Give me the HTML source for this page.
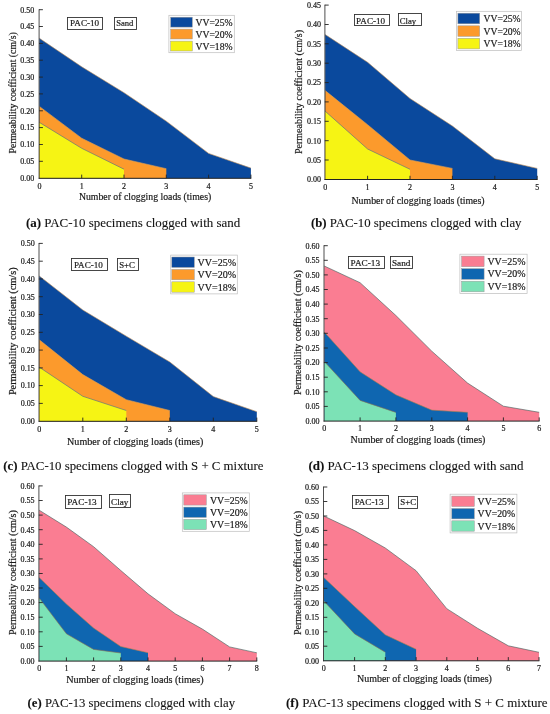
<!DOCTYPE html>
<html lang="en"><head><meta charset="utf-8"><title>Permeability coefficient vs clogging loads</title>
<style>
html,body{margin:0;padding:0;background:#fff;}
body{width:550px;height:714px;overflow:hidden;}
svg{display:block;}
svg text{font-family:"Liberation Serif","Times New Roman",serif;fill:#1a1a1a;stroke:#1a1a1a;stroke-width:0.2px;}
.tk{font-size:8px;}
.ti{font-size:9.8px;}
.lg{font-size:9.7px;}
.tg{font-size:9px;}
.cap{font-size:13px;fill:#111;stroke-width:0.1px;}
.cap tspan{font-weight:bold;}
</style></head><body>
<svg width="550" height="714" viewBox="0 0 550 714">
<rect width="550" height="714" fill="#fff"/>
<g id="chart-a">
<polygon points="39.4,178.2 39.4,38.3 81.7,66.8 124.0,92.7 166.3,121.2 208.6,153.4 250.9,168.1 250.9,178.2" fill="#0A499D"/>
<polygon points="39.4,178.2 39.4,106.4 81.7,138.2 124.0,159.0 166.3,168.7 166.3,178.2" fill="#FC9A2C"/>
<polygon points="39.4,178.2 39.4,122.4 81.7,148.3 124.0,169.2 124.0,178.2" fill="#F6F414"/>
<polyline points="39.4,38.3 81.7,66.8 124.0,92.7 166.3,121.2 208.6,153.4 250.9,168.1" fill="none" stroke="#b88a55" stroke-width="0.6"/>
<polyline points="39.4,106.4 81.7,138.2 124.0,159.0 166.3,168.7" fill="none" stroke="#d9a05a" stroke-width="0.6"/>
<polyline points="39.4,122.4 81.7,148.3 124.0,169.2" fill="none" stroke="#4a688c" stroke-width="0.6"/>
<path d="M39.1 9.3V178.7" fill="none" stroke="#222" stroke-width="0.8"/>
<path d="M38.7 178.3H251.3" fill="none" stroke="#222" stroke-width="1"/>
<text class="tk" x="34.2" y="181.0" text-anchor="end">0.00</text>
<text class="tk" x="34.2" y="164.2" text-anchor="end">0.05</text>
<text class="tk" x="34.2" y="147.3" text-anchor="end">0.10</text>
<text class="tk" x="34.2" y="130.4" text-anchor="end">0.15</text>
<text class="tk" x="34.2" y="113.6" text-anchor="end">0.20</text>
<text class="tk" x="34.2" y="96.7" text-anchor="end">0.25</text>
<text class="tk" x="34.2" y="79.9" text-anchor="end">0.30</text>
<text class="tk" x="34.2" y="63.0" text-anchor="end">0.35</text>
<text class="tk" x="34.2" y="46.2" text-anchor="end">0.40</text>
<text class="tk" x="34.2" y="29.3" text-anchor="end">0.45</text>
<text class="tk" x="34.2" y="12.5" text-anchor="end">0.50</text>
<text class="tk" x="39.4" y="188.8" text-anchor="middle">0</text>
<text class="tk" x="81.7" y="188.8" text-anchor="middle">1</text>
<text class="tk" x="124.0" y="188.8" text-anchor="middle">2</text>
<text class="tk" x="166.3" y="188.8" text-anchor="middle">3</text>
<text class="tk" x="208.6" y="188.8" text-anchor="middle">4</text>
<text class="tk" x="250.9" y="188.8" text-anchor="middle">5</text>
<path d="M39.0 161.3h3.9M39.0 144.5h3.9M39.0 127.6h3.9M39.0 110.8h3.9M39.0 93.9h3.9M39.0 77.1h3.9M39.0 60.2h3.9M39.0 43.4h3.9M39.0 26.5h3.9M39.0 9.7h3.9M81.7 178.2v-3.6M124.0 178.2v-3.6M166.3 178.2v-3.6M208.6 178.2v-3.6M250.9 178.2v-3.6" fill="none" stroke="#222" stroke-width="0.9"/>
<text class="ti" transform="translate(15.9 153.5) rotate(-90)" textLength="121.3" lengthAdjust="spacingAndGlyphs">Permeability coefficient (cm/s)</text>
<text class="ti" x="78.9" y="200.0" textLength="132.3" lengthAdjust="spacingAndGlyphs">Number of clogging loads (times)</text>
<rect x="67.5" y="17.5" width="35.0" height="12.0" fill="#fff" stroke="#333" stroke-width="0.9"/>
<text class="tg" x="70.1" y="26.4" textLength="29.1" lengthAdjust="spacingAndGlyphs">PAC-10</text>
<rect x="114.5" y="17.5" width="22.0" height="12.0" fill="#fff" stroke="#333" stroke-width="0.9"/>
<text class="tg" x="116.2" y="26.4" textLength="17.2" lengthAdjust="spacingAndGlyphs">Sand</text>
<rect x="168.9" y="15.3" width="65.4" height="37.4" fill="#fff" stroke="#bdbdbd" stroke-width="0.7"/>
<rect x="170.7" y="17.2" width="21.6" height="9.9" fill="#0A499D" stroke="#9a9a9a" stroke-width="0.5"/>
<text class="lg" x="195.4" y="25.9" textLength="37.2" lengthAdjust="spacingAndGlyphs">VV=25%</text>
<rect x="170.7" y="29.1" width="21.6" height="9.9" fill="#FC9A2C" stroke="#9a9a9a" stroke-width="0.5"/>
<text class="lg" x="195.4" y="37.8" textLength="37.2" lengthAdjust="spacingAndGlyphs">VV=20%</text>
<rect x="170.7" y="41.1" width="21.6" height="9.9" fill="#F6F414" stroke="#9a9a9a" stroke-width="0.5"/>
<text class="lg" x="195.4" y="49.8" textLength="37.2" lengthAdjust="spacingAndGlyphs">VV=18%</text>
<text class="cap" x="25.9" y="227.0" textLength="214.3" lengthAdjust="spacingAndGlyphs"><tspan>(a)</tspan> PAC-10 specimens clogged with sand</text>
</g>
<g id="chart-b">
<polygon points="325.2,179.4 325.2,34.6 367.6,62.3 410.0,98.5 452.4,126.0 494.8,158.8 537.2,168.4 537.2,179.4" fill="#0A499D"/>
<polygon points="325.2,179.4 325.2,90.6 367.6,124.7 410.0,160.0 452.4,168.4 452.4,179.4" fill="#FC9A2C"/>
<polygon points="325.2,179.4 325.2,111.2 367.6,149.0 410.0,169.3 410.0,179.4" fill="#F6F414"/>
<polyline points="325.2,34.6 367.6,62.3 410.0,98.5 452.4,126.0 494.8,158.8 537.2,168.4" fill="none" stroke="#b88a55" stroke-width="0.6"/>
<polyline points="325.2,90.6 367.6,124.7 410.0,160.0 452.4,168.4" fill="none" stroke="#d9a05a" stroke-width="0.6"/>
<polyline points="325.2,111.2 367.6,149.0 410.0,169.3" fill="none" stroke="#4a688c" stroke-width="0.6"/>
<path d="M324.9 4.7V179.9" fill="none" stroke="#222" stroke-width="0.8"/>
<path d="M324.5 179.5H537.6" fill="none" stroke="#222" stroke-width="1"/>
<text class="tk" x="320.9" y="182.2" text-anchor="end">0.00</text>
<text class="tk" x="320.9" y="162.8" text-anchor="end">0.05</text>
<text class="tk" x="320.9" y="143.5" text-anchor="end">0.10</text>
<text class="tk" x="320.9" y="124.1" text-anchor="end">0.15</text>
<text class="tk" x="320.9" y="104.7" text-anchor="end">0.20</text>
<text class="tk" x="320.9" y="85.4" text-anchor="end">0.25</text>
<text class="tk" x="320.9" y="66.0" text-anchor="end">0.30</text>
<text class="tk" x="320.9" y="46.6" text-anchor="end">0.35</text>
<text class="tk" x="320.9" y="27.3" text-anchor="end">0.40</text>
<text class="tk" x="320.9" y="7.9" text-anchor="end">0.45</text>
<text class="tk" x="325.2" y="189.8" text-anchor="middle">0</text>
<text class="tk" x="367.6" y="189.8" text-anchor="middle">1</text>
<text class="tk" x="410.0" y="189.8" text-anchor="middle">2</text>
<text class="tk" x="452.4" y="189.8" text-anchor="middle">3</text>
<text class="tk" x="494.8" y="189.8" text-anchor="middle">4</text>
<text class="tk" x="537.2" y="189.8" text-anchor="middle">5</text>
<path d="M324.8 160.0h3.9M324.8 140.7h3.9M324.8 121.3h3.9M324.8 101.9h3.9M324.8 82.6h3.9M324.8 63.2h3.9M324.8 43.8h3.9M324.8 24.5h3.9M324.8 5.1h3.9M367.6 179.4v-3.6M410.0 179.4v-3.6M452.4 179.4v-3.6M494.8 179.4v-3.6M537.2 179.4v-3.6" fill="none" stroke="#222" stroke-width="0.9"/>
<text class="ti" transform="translate(301.9 154.0) rotate(-90)" textLength="124.0" lengthAdjust="spacingAndGlyphs">Permeability coefficient (cm/s)</text>
<text class="ti" x="351.5" y="203.8" textLength="133.0" lengthAdjust="spacingAndGlyphs">Number of clogging loads (times)</text>
<rect x="354.5" y="14.5" width="35.0" height="11.0" fill="#fff" stroke="#333" stroke-width="0.9"/>
<text class="tg" x="356.1" y="23.5" textLength="29.0" lengthAdjust="spacingAndGlyphs">PAC-10</text>
<rect x="398.5" y="13.5" width="23.0" height="12.0" fill="#fff" stroke="#333" stroke-width="0.9"/>
<text class="tg" x="399.8" y="23.5" textLength="16.4" lengthAdjust="spacingAndGlyphs">Clay</text>
<rect x="456.6" y="11.3" width="65.0" height="39.3" fill="#fff" stroke="#bdbdbd" stroke-width="0.7"/>
<rect x="457.9" y="13.2" width="21.8" height="10.6" fill="#0A499D" stroke="#9a9a9a" stroke-width="0.5"/>
<text class="lg" x="483.5" y="21.9" textLength="37.1" lengthAdjust="spacingAndGlyphs">VV=25%</text>
<rect x="457.9" y="25.8" width="21.8" height="10.6" fill="#FC9A2C" stroke="#9a9a9a" stroke-width="0.5"/>
<text class="lg" x="483.5" y="34.5" textLength="37.1" lengthAdjust="spacingAndGlyphs">VV=20%</text>
<rect x="457.9" y="38.3" width="21.8" height="10.6" fill="#F6F414" stroke="#9a9a9a" stroke-width="0.5"/>
<text class="lg" x="483.5" y="47.0" textLength="37.1" lengthAdjust="spacingAndGlyphs">VV=18%</text>
<text class="cap" x="310.9" y="226.8" textLength="210.6" lengthAdjust="spacingAndGlyphs"><tspan>(b)</tspan> PAC-10 specimens clogged with clay</text>
</g>
<g id="chart-c">
<polygon points="39.3,421.2 39.3,276.0 82.8,310.0 126.3,336.2 169.8,362.0 213.3,396.6 256.8,411.7 256.8,421.2" fill="#0A499D"/>
<polygon points="39.3,421.2 39.3,339.8 82.8,374.6 126.3,399.7 169.8,410.5 169.8,421.2" fill="#FC9A2C"/>
<polygon points="39.3,421.2 39.3,367.2 82.8,396.3 126.3,410.5 126.3,421.2" fill="#F6F414"/>
<polyline points="39.3,276.0 82.8,310.0 126.3,336.2 169.8,362.0 213.3,396.6 256.8,411.7" fill="none" stroke="#b88a55" stroke-width="0.6"/>
<polyline points="39.3,339.8 82.8,374.6 126.3,399.7 169.8,410.5" fill="none" stroke="#d9a05a" stroke-width="0.6"/>
<polyline points="39.3,367.2 82.8,396.3 126.3,410.5" fill="none" stroke="#4a688c" stroke-width="0.6"/>
<path d="M39.0 243.0V421.7" fill="none" stroke="#222" stroke-width="0.8"/>
<path d="M38.6 421.3H257.2" fill="none" stroke="#222" stroke-width="1"/>
<text class="tk" x="34.7" y="424.0" text-anchor="end">0.00</text>
<text class="tk" x="34.7" y="406.2" text-anchor="end">0.05</text>
<text class="tk" x="34.7" y="388.4" text-anchor="end">0.10</text>
<text class="tk" x="34.7" y="370.7" text-anchor="end">0.15</text>
<text class="tk" x="34.7" y="352.9" text-anchor="end">0.20</text>
<text class="tk" x="34.7" y="335.1" text-anchor="end">0.25</text>
<text class="tk" x="34.7" y="317.3" text-anchor="end">0.30</text>
<text class="tk" x="34.7" y="299.5" text-anchor="end">0.35</text>
<text class="tk" x="34.7" y="281.8" text-anchor="end">0.40</text>
<text class="tk" x="34.7" y="264.0" text-anchor="end">0.45</text>
<text class="tk" x="34.7" y="246.2" text-anchor="end">0.50</text>
<text class="tk" x="39.3" y="432.3" text-anchor="middle">0</text>
<text class="tk" x="82.8" y="432.3" text-anchor="middle">1</text>
<text class="tk" x="126.3" y="432.3" text-anchor="middle">2</text>
<text class="tk" x="169.8" y="432.3" text-anchor="middle">3</text>
<text class="tk" x="213.3" y="432.3" text-anchor="middle">4</text>
<text class="tk" x="256.8" y="432.3" text-anchor="middle">5</text>
<path d="M38.9 403.4h3.9M38.9 385.6h3.9M38.9 367.9h3.9M38.9 350.1h3.9M38.9 332.3h3.9M38.9 314.5h3.9M38.9 296.7h3.9M38.9 279.0h3.9M38.9 261.2h3.9M38.9 243.4h3.9M82.8 421.2v-3.6M126.3 421.2v-3.6M169.8 421.2v-3.6M213.3 421.2v-3.6M256.8 421.2v-3.6" fill="none" stroke="#222" stroke-width="0.9"/>
<text class="ti" transform="translate(16.3 395.1) rotate(-90)" textLength="127.7" lengthAdjust="spacingAndGlyphs">Permeability coefficient (cm/s)</text>
<text class="ti" x="67.1" y="445.3" textLength="136.2" lengthAdjust="spacingAndGlyphs">Number of clogging loads (times)</text>
<rect x="71.5" y="258.5" width="36.0" height="12.0" fill="#fff" stroke="#333" stroke-width="0.9"/>
<text class="tg" x="73.9" y="267.7" textLength="29.0" lengthAdjust="spacingAndGlyphs">PAC-10</text>
<rect x="117.5" y="258.5" width="21.0" height="12.0" fill="#fff" stroke="#333" stroke-width="0.9"/>
<text class="tg" x="119.2" y="267.7" textLength="15.8" lengthAdjust="spacingAndGlyphs">S+C</text>
<rect x="170.7" y="255.1" width="66.6" height="38.8" fill="#fff" stroke="#bdbdbd" stroke-width="0.7"/>
<rect x="171.8" y="257.0" width="22.5" height="10.4" fill="#0A499D" stroke="#9a9a9a" stroke-width="0.5"/>
<text class="lg" x="197.6" y="265.7" textLength="38.6" lengthAdjust="spacingAndGlyphs">VV=25%</text>
<rect x="171.8" y="269.4" width="22.5" height="10.4" fill="#FC9A2C" stroke="#9a9a9a" stroke-width="0.5"/>
<text class="lg" x="197.6" y="278.1" textLength="38.6" lengthAdjust="spacingAndGlyphs">VV=20%</text>
<rect x="171.8" y="281.8" width="22.5" height="10.4" fill="#F6F414" stroke="#9a9a9a" stroke-width="0.5"/>
<text class="lg" x="197.6" y="290.5" textLength="38.6" lengthAdjust="spacingAndGlyphs">VV=18%</text>
<text class="cap" x="3.2" y="470.1" textLength="260.3" lengthAdjust="spacingAndGlyphs"><tspan>(c)</tspan> PAC-10 specimens clogged with S + C mixture</text>
</g>
<g id="chart-d">
<polygon points="324.3,421.0 324.3,266.0 360.1,282.7 395.9,315.5 431.8,351.2 467.6,383.1 503.4,406.2 539.2,412.3 539.2,421.0" fill="#FA7D92"/>
<polygon points="324.3,421.0 324.3,332.0 360.1,371.8 395.9,394.8 431.8,410.1 467.6,412.3 467.6,421.0" fill="#0F66B0"/>
<polygon points="324.3,421.0 324.3,361.5 360.1,400.4 395.9,412.4 395.9,421.0" fill="#7CE2B6"/>
<polyline points="324.3,266.0 360.1,282.7 395.9,315.5 431.8,351.2 467.6,383.1 503.4,406.2 539.2,412.3" fill="none" stroke="#3a5f5a" stroke-width="0.6"/>
<polyline points="324.3,332.0 360.1,371.8 395.9,394.8 431.8,410.1 467.6,412.3" fill="none" stroke="#b8804a" stroke-width="0.6"/>
<polyline points="324.3,361.5 360.1,400.4 395.9,412.4" fill="none" stroke="#8a7050" stroke-width="0.6"/>
<path d="M324.0 245.3V421.5" fill="none" stroke="#222" stroke-width="0.8"/>
<path d="M323.6 421.1H539.6" fill="none" stroke="#222" stroke-width="1"/>
<text class="tk" x="319.5" y="423.8" text-anchor="end">0.00</text>
<text class="tk" x="319.5" y="409.2" text-anchor="end">0.05</text>
<text class="tk" x="319.5" y="394.6" text-anchor="end">0.10</text>
<text class="tk" x="319.5" y="380.0" text-anchor="end">0.15</text>
<text class="tk" x="319.5" y="365.4" text-anchor="end">0.20</text>
<text class="tk" x="319.5" y="350.8" text-anchor="end">0.25</text>
<text class="tk" x="319.5" y="336.1" text-anchor="end">0.30</text>
<text class="tk" x="319.5" y="321.5" text-anchor="end">0.35</text>
<text class="tk" x="319.5" y="306.9" text-anchor="end">0.40</text>
<text class="tk" x="319.5" y="292.3" text-anchor="end">0.45</text>
<text class="tk" x="319.5" y="277.7" text-anchor="end">0.50</text>
<text class="tk" x="319.5" y="263.1" text-anchor="end">0.55</text>
<text class="tk" x="319.5" y="248.5" text-anchor="end">0.60</text>
<text class="tk" x="324.3" y="431.4" text-anchor="middle">0</text>
<text class="tk" x="360.1" y="431.4" text-anchor="middle">1</text>
<text class="tk" x="395.9" y="431.4" text-anchor="middle">2</text>
<text class="tk" x="431.8" y="431.4" text-anchor="middle">3</text>
<text class="tk" x="467.6" y="431.4" text-anchor="middle">4</text>
<text class="tk" x="503.4" y="431.4" text-anchor="middle">5</text>
<text class="tk" x="539.2" y="431.4" text-anchor="middle">6</text>
<path d="M323.9 406.4h3.9M323.9 391.8h3.9M323.9 377.2h3.9M323.9 362.6h3.9M323.9 348.0h3.9M323.9 333.3h3.9M323.9 318.7h3.9M323.9 304.1h3.9M323.9 289.5h3.9M323.9 274.9h3.9M323.9 260.3h3.9M323.9 245.7h3.9M360.1 421.0v-3.6M395.9 421.0v-3.6M431.8 421.0v-3.6M467.6 421.0v-3.6M503.4 421.0v-3.6M539.2 421.0v-3.6" fill="none" stroke="#222" stroke-width="0.9"/>
<text class="ti" transform="translate(301.0 395.1) rotate(-90)" textLength="124.9" lengthAdjust="spacingAndGlyphs">Permeability coefficient (cm/s)</text>
<text class="ti" x="350.6" y="443.1" textLength="134.8" lengthAdjust="spacingAndGlyphs">Number of clogging loads (times)</text>
<rect x="348.5" y="256.5" width="36.0" height="12.0" fill="#fff" stroke="#333" stroke-width="0.9"/>
<text class="tg" x="350.6" y="265.7" textLength="29.5" lengthAdjust="spacingAndGlyphs">PAC-13</text>
<rect x="390.5" y="256.5" width="22.0" height="12.0" fill="#fff" stroke="#333" stroke-width="0.9"/>
<text class="tg" x="392.0" y="265.7" textLength="18.4" lengthAdjust="spacingAndGlyphs">Sand</text>
<rect x="459.9" y="254.2" width="67.2" height="39.3" fill="#fff" stroke="#bdbdbd" stroke-width="0.7"/>
<rect x="461.6" y="256.1" width="22.5" height="10.6" fill="#FA7D92" stroke="#9a9a9a" stroke-width="0.5"/>
<text class="lg" x="487.4" y="264.8" textLength="38.2" lengthAdjust="spacingAndGlyphs">VV=25%</text>
<rect x="461.6" y="268.7" width="22.5" height="10.6" fill="#0F66B0" stroke="#9a9a9a" stroke-width="0.5"/>
<text class="lg" x="487.4" y="277.4" textLength="38.2" lengthAdjust="spacingAndGlyphs">VV=20%</text>
<rect x="461.6" y="281.2" width="22.5" height="10.6" fill="#7CE2B6" stroke="#9a9a9a" stroke-width="0.5"/>
<text class="lg" x="487.4" y="289.9" textLength="38.2" lengthAdjust="spacingAndGlyphs">VV=18%</text>
<text class="cap" x="308.5" y="470.1" textLength="215.0" lengthAdjust="spacingAndGlyphs"><tspan>(d)</tspan> PAC-13 specimens clogged with sand</text>
</g>
<g id="chart-e">
<polygon points="39.2,661.0 39.2,510.2 66.4,527.1 93.6,546.7 120.8,570.5 148.0,593.8 175.2,613.7 202.4,629.1 229.6,646.9 256.8,652.8 256.8,661.0" fill="#FA7D92"/>
<polygon points="39.2,661.0 39.2,577.5 66.4,604.0 93.6,628.0 120.8,646.5 148.0,652.7 148.0,661.0" fill="#0F66B0"/>
<polygon points="39.2,661.0 39.2,598.0 66.4,633.8 93.6,649.4 120.8,653.0 120.8,661.0" fill="#7CE2B6"/>
<polyline points="39.2,510.2 66.4,527.1 93.6,546.7 120.8,570.5 148.0,593.8 175.2,613.7 202.4,629.1 229.6,646.9 256.8,652.8" fill="none" stroke="#3a5f5a" stroke-width="0.6"/>
<polyline points="39.2,577.5 66.4,604.0 93.6,628.0 120.8,646.5 148.0,652.7" fill="none" stroke="#b8804a" stroke-width="0.6"/>
<polyline points="39.2,598.0 66.4,633.8 93.6,649.4 120.8,653.0" fill="none" stroke="#8a7050" stroke-width="0.6"/>
<path d="M38.9 485.5V661.5" fill="none" stroke="#222" stroke-width="0.8"/>
<path d="M38.5 661.1H257.2" fill="none" stroke="#222" stroke-width="1"/>
<text class="tk" x="34.5" y="663.8" text-anchor="end">0.00</text>
<text class="tk" x="34.5" y="649.2" text-anchor="end">0.05</text>
<text class="tk" x="34.5" y="634.6" text-anchor="end">0.10</text>
<text class="tk" x="34.5" y="620.0" text-anchor="end">0.15</text>
<text class="tk" x="34.5" y="605.4" text-anchor="end">0.20</text>
<text class="tk" x="34.5" y="590.8" text-anchor="end">0.25</text>
<text class="tk" x="34.5" y="576.2" text-anchor="end">0.30</text>
<text class="tk" x="34.5" y="561.7" text-anchor="end">0.35</text>
<text class="tk" x="34.5" y="547.1" text-anchor="end">0.40</text>
<text class="tk" x="34.5" y="532.5" text-anchor="end">0.45</text>
<text class="tk" x="34.5" y="517.9" text-anchor="end">0.50</text>
<text class="tk" x="34.5" y="503.3" text-anchor="end">0.55</text>
<text class="tk" x="34.5" y="488.7" text-anchor="end">0.60</text>
<text class="tk" x="39.2" y="671.4" text-anchor="middle">0</text>
<text class="tk" x="66.4" y="671.4" text-anchor="middle">1</text>
<text class="tk" x="93.6" y="671.4" text-anchor="middle">2</text>
<text class="tk" x="120.8" y="671.4" text-anchor="middle">3</text>
<text class="tk" x="148.0" y="671.4" text-anchor="middle">4</text>
<text class="tk" x="175.2" y="671.4" text-anchor="middle">5</text>
<text class="tk" x="202.4" y="671.4" text-anchor="middle">6</text>
<text class="tk" x="229.6" y="671.4" text-anchor="middle">7</text>
<text class="tk" x="256.8" y="671.4" text-anchor="middle">8</text>
<path d="M38.8 646.4h3.9M38.8 631.8h3.9M38.8 617.2h3.9M38.8 602.6h3.9M38.8 588.0h3.9M38.8 573.5h3.9M38.8 558.9h3.9M38.8 544.3h3.9M38.8 529.7h3.9M38.8 515.1h3.9M38.8 500.5h3.9M38.8 485.9h3.9M66.4 661.0v-3.6M93.6 661.0v-3.6M120.8 661.0v-3.6M148.0 661.0v-3.6M175.2 661.0v-3.6M202.4 661.0v-3.6M229.6 661.0v-3.6M256.8 661.0v-3.6" fill="none" stroke="#222" stroke-width="0.9"/>
<text class="ti" transform="translate(16.3 635.1) rotate(-90)" textLength="124.9" lengthAdjust="spacingAndGlyphs">Permeability coefficient (cm/s)</text>
<text class="ti" x="66.2" y="683.1" textLength="137.5" lengthAdjust="spacingAndGlyphs">Number of clogging loads (times)</text>
<rect x="65.5" y="495.5" width="36.0" height="13.0" fill="#fff" stroke="#333" stroke-width="0.9"/>
<text class="tg" x="67.3" y="504.7" textLength="29.4" lengthAdjust="spacingAndGlyphs">PAC-13</text>
<rect x="109.5" y="494.5" width="21.0" height="13.0" fill="#fff" stroke="#333" stroke-width="0.9"/>
<text class="tg" x="111.1" y="504.5" textLength="17.1" lengthAdjust="spacingAndGlyphs">Clay</text>
<rect x="182.3" y="492.9" width="67.0" height="38.4" fill="#fff" stroke="#bdbdbd" stroke-width="0.7"/>
<rect x="183.8" y="494.8" width="22.5" height="10.3" fill="#FA7D92" stroke="#9a9a9a" stroke-width="0.5"/>
<text class="lg" x="210.0" y="503.5" textLength="37.8" lengthAdjust="spacingAndGlyphs">VV=25%</text>
<rect x="183.8" y="507.1" width="22.5" height="10.3" fill="#0F66B0" stroke="#9a9a9a" stroke-width="0.5"/>
<text class="lg" x="210.0" y="515.8" textLength="37.8" lengthAdjust="spacingAndGlyphs">VV=20%</text>
<rect x="183.8" y="519.3" width="22.5" height="10.3" fill="#7CE2B6" stroke="#9a9a9a" stroke-width="0.5"/>
<text class="lg" x="210.0" y="528.0" textLength="37.8" lengthAdjust="spacingAndGlyphs">VV=18%</text>
<text class="cap" x="27.6" y="706.7" textLength="207.4" lengthAdjust="spacingAndGlyphs"><tspan>(e)</tspan> PAC-13 specimens clogged with clay</text>
</g>
<g id="chart-f">
<polygon points="323.8,660.7 323.8,516.0 354.6,530.6 385.3,548.0 416.1,570.7 446.8,608.7 477.6,628.3 508.3,645.8 539.0,652.3 539.0,660.7" fill="#FA7D92"/>
<polygon points="323.8,660.7 323.8,577.5 354.6,606.5 385.3,634.8 416.1,649.2 416.1,660.7" fill="#0F66B0"/>
<polygon points="323.8,660.7 323.8,601.0 354.6,633.9 385.3,652.2 385.3,660.7" fill="#7CE2B6"/>
<polyline points="323.8,516.0 354.6,530.6 385.3,548.0 416.1,570.7 446.8,608.7 477.6,628.3 508.3,645.8 539.0,652.3" fill="none" stroke="#3a5f5a" stroke-width="0.6"/>
<polyline points="323.8,577.5 354.6,606.5 385.3,634.8 416.1,649.2" fill="none" stroke="#b8804a" stroke-width="0.6"/>
<polyline points="323.8,601.0 354.6,633.9 385.3,652.2" fill="none" stroke="#8a7050" stroke-width="0.6"/>
<path d="M323.5 486.6V661.2" fill="none" stroke="#222" stroke-width="0.8"/>
<path d="M323.1 660.8H539.4" fill="none" stroke="#222" stroke-width="1"/>
<text class="tk" x="319.1" y="663.5" text-anchor="end">0.00</text>
<text class="tk" x="319.1" y="649.0" text-anchor="end">0.05</text>
<text class="tk" x="319.1" y="634.5" text-anchor="end">0.10</text>
<text class="tk" x="319.1" y="620.1" text-anchor="end">0.15</text>
<text class="tk" x="319.1" y="605.6" text-anchor="end">0.20</text>
<text class="tk" x="319.1" y="591.1" text-anchor="end">0.25</text>
<text class="tk" x="319.1" y="576.6" text-anchor="end">0.30</text>
<text class="tk" x="319.1" y="562.2" text-anchor="end">0.35</text>
<text class="tk" x="319.1" y="547.7" text-anchor="end">0.40</text>
<text class="tk" x="319.1" y="533.2" text-anchor="end">0.45</text>
<text class="tk" x="319.1" y="518.8" text-anchor="end">0.50</text>
<text class="tk" x="319.1" y="504.3" text-anchor="end">0.55</text>
<text class="tk" x="319.1" y="489.8" text-anchor="end">0.60</text>
<text class="tk" x="323.8" y="670.5" text-anchor="middle">0</text>
<text class="tk" x="354.6" y="670.5" text-anchor="middle">1</text>
<text class="tk" x="385.3" y="670.5" text-anchor="middle">2</text>
<text class="tk" x="416.1" y="670.5" text-anchor="middle">3</text>
<text class="tk" x="446.8" y="670.5" text-anchor="middle">4</text>
<text class="tk" x="477.6" y="670.5" text-anchor="middle">5</text>
<text class="tk" x="508.3" y="670.5" text-anchor="middle">6</text>
<text class="tk" x="539.0" y="670.5" text-anchor="middle">7</text>
<path d="M323.4 646.2h3.9M323.4 631.8h3.9M323.4 617.3h3.9M323.4 602.8h3.9M323.4 588.3h3.9M323.4 573.9h3.9M323.4 559.4h3.9M323.4 544.9h3.9M323.4 530.4h3.9M323.4 516.0h3.9M323.4 501.5h3.9M323.4 487.0h3.9M354.6 660.7v-3.6M385.3 660.7v-3.6M416.1 660.7v-3.6M446.8 660.7v-3.6M477.6 660.7v-3.6M508.3 660.7v-3.6M539.0 660.7v-3.6" fill="none" stroke="#222" stroke-width="0.9"/>
<text class="ti" transform="translate(301.0 635.1) rotate(-90)" textLength="124.1" lengthAdjust="spacingAndGlyphs">Permeability coefficient (cm/s)</text>
<text class="ti" x="357.1" y="681.8" textLength="134.8" lengthAdjust="spacingAndGlyphs">Number of clogging loads (times)</text>
<rect x="352.5" y="495.5" width="36.0" height="13.0" fill="#fff" stroke="#333" stroke-width="0.9"/>
<text class="tg" x="354.7" y="505.0" textLength="28.7" lengthAdjust="spacingAndGlyphs">PAC-13</text>
<rect x="398.5" y="496.5" width="19.0" height="12.0" fill="#fff" stroke="#333" stroke-width="0.9"/>
<text class="tg" x="400.2" y="505.0" textLength="15.9" lengthAdjust="spacingAndGlyphs">S+C</text>
<rect x="450.1" y="494.2" width="66.8" height="38.7" fill="#fff" stroke="#bdbdbd" stroke-width="0.7"/>
<rect x="451.8" y="496.1" width="22.5" height="10.4" fill="#FA7D92" stroke="#9a9a9a" stroke-width="0.5"/>
<text class="lg" x="477.6" y="504.8" textLength="37.5" lengthAdjust="spacingAndGlyphs">VV=25%</text>
<rect x="451.8" y="508.5" width="22.5" height="10.4" fill="#0F66B0" stroke="#9a9a9a" stroke-width="0.5"/>
<text class="lg" x="477.6" y="517.2" textLength="37.5" lengthAdjust="spacingAndGlyphs">VV=20%</text>
<rect x="451.8" y="520.8" width="22.5" height="10.4" fill="#7CE2B6" stroke="#9a9a9a" stroke-width="0.5"/>
<text class="lg" x="477.6" y="529.5" textLength="37.5" lengthAdjust="spacingAndGlyphs">VV=18%</text>
<text class="cap" x="286.0" y="706.9" textLength="261.5" lengthAdjust="spacingAndGlyphs"><tspan>(f)</tspan> PAC-13 specimens clogged with S + C mixture</text>
</g>
</svg></body></html>
